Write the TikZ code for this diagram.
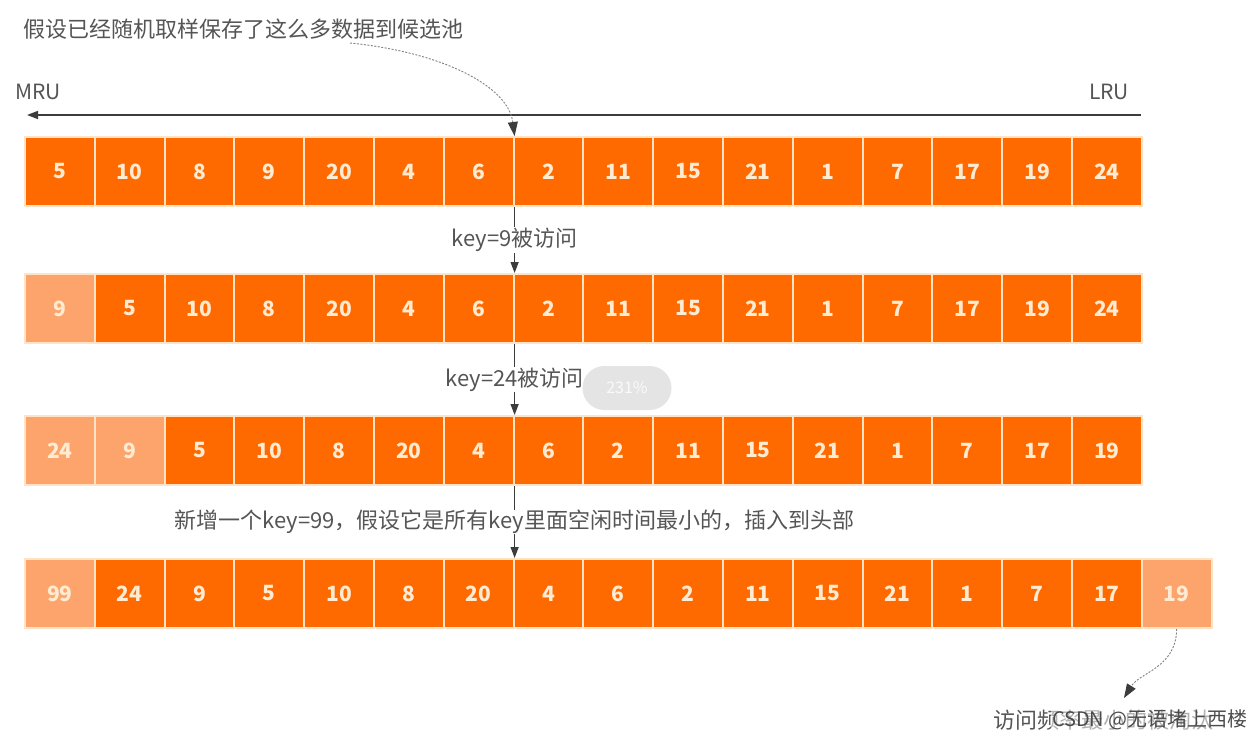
\documentclass[tikz,border=0pt]{standalone}
\usepackage{fontspec}
\setmainfont{Noto Sans CJK SC}
\usetikzlibrary{arrows.meta}
\definecolor{og}{HTML}{FF6A00}
\definecolor{lightog}{HTML}{FCA46C}
\definecolor{cellline}{HTML}{FFE3C4}
\definecolor{celltxt}{HTML}{FFEBD2}
\definecolor{lblgray}{HTML}{555555}
\definecolor{arrowgray}{HTML}{3C3C3C}
\definecolor{pillgray}{HTML}{E4E4E4}
\begin{document}
\begin{tikzpicture}[x=1pt,y=-1pt,
  cell/.style={draw=cellline, line width=2pt, text=celltxt, minimum width=69.8pt,
    minimum height=69pt, inner sep=0pt, anchor=north west,
    font=\fontsize{21}{21}\selectfont\bfseries},
  lbl/.style={text=lblgray, font=\fontsize{22}{22}\selectfont, inner sep=1pt},
  conn/.style={draw=arrowgray, line width=1.3pt, -{Triangle[length=11pt,width=8pt]}},
  curvy/.style={draw=gray, line width=0.9pt, dash pattern=on 2pt off 1.5pt,
    -{Triangle[length=14pt,width=10pt,color=arrowgray]}}
]
\useasboundingbox[fill=white] (0,0) rectangle (1260,741);

% title and MRU/LRU
\node[lbl, anchor=west] (title) at (22,29) {假设已经随机取样保存了这么多数据到候选池};
\node[lbl, font=\fontsize{21}{21}\selectfont] (mru) at (38,92) {MRU};
\node[lbl, font=\fontsize{21}{21}\selectfont] (lru) at (1109,92) {LRU};
\coordinate (lruend) at (1141,115);
\coordinate (mruend) at (27,115);
\draw[conn, line width=1.6pt] (lruend) -- (mruend);

% rows
\foreach \v/\f [count=\i] in {5/og,10/og,8/og,9/og,20/og,4/og,6/og,2/og,11/og,15/og,21/og,1/og,7/og,17/og,19/og,24/og}
  \node[cell, fill=\f] (r1c\i) at ({24+(\i-1)*69.8},136) {\v};
\foreach \v/\f [count=\i] in {9/lightog,5/og,10/og,8/og,20/og,4/og,6/og,2/og,11/og,15/og,21/og,1/og,7/og,17/og,19/og,24/og}
  \node[cell, fill=\f] (r2c\i) at ({24+(\i-1)*69.8},273) {\v};
\foreach \v/\f [count=\i] in {24/lightog,9/lightog,5/og,10/og,8/og,20/og,4/og,6/og,2/og,11/og,15/og,21/og,1/og,7/og,17/og,19/og}
  \node[cell, fill=\f] (r3c\i) at ({24+(\i-1)*69.8},415) {\v};
\foreach \v/\f [count=\i] in {99/lightog,24/og,9/og,5/og,10/og,8/og,20/og,4/og,6/og,2/og,11/og,15/og,21/og,1/og,7/og,17/og,19/lightog}
  \node[cell, fill=\f] (r4c\i) at ({24+(\i-1)*69.8},558) {\v};

% top dashed curve
\coordinate (c1) at (350,43);
\draw[curvy] (c1) .. controls (440,52) and (508,85) .. (r1c7.north east);

% step connectors
\draw[conn] (r1c7.south east) -- node[lbl, fill=white] (k9) {key=9被访问} (r2c7.north east);
\draw[conn] (r2c7.south east) -- node[lbl, fill=white] (k24) {key=24被访问} (r3c7.north east);
\draw[conn] (r3c7.south east) -- node[lbl, fill=white, inner sep=0.5pt] (k99) {新增一个key=99，假设它是所有key里面空闲时间最小的，插入到头部} (r4c7.north east);

% zoom pill
\node[fill=pillgray, rounded corners=22pt, minimum width=89pt, minimum height=44pt,
  text=white!80!pillgray, font=\fontsize{16}{16}\selectfont] (pill) at (627,388) {231\%};

% bottom dashed curve
\coordinate (c2) at (1124,698);
\draw[curvy] (r4c17.south) .. controls (1176,668) and (1140,672) .. (c2);
\node[lbl, anchor=west] (evict) at (992,720) {访问频率最小的被淘汰};
\node[anchor=east, fill=white, fill opacity=0.55, text opacity=1, text=lblgray!90!black,
  font=\fontsize{20}{20}\selectfont, inner sep=1pt] (wm) at (1249,720) {CSDN @无语堵上西楼};
\end{tikzpicture}
\end{document}
